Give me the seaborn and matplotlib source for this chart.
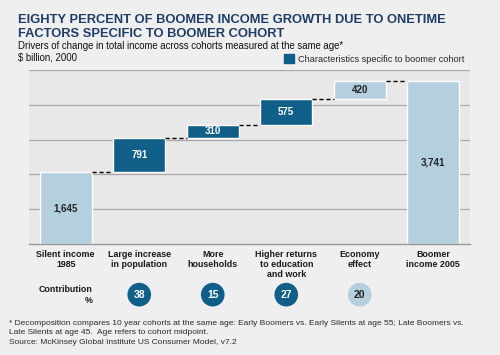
import matplotlib
matplotlib.use("Agg")
import matplotlib.pyplot as plt
from matplotlib.patches import Patch
import numpy as np
import pandas as pd
import seaborn as sns

# data
labels = ["Silent income\n1985", "Large increase\nin population", "More\nhouseholds",
          "Higher returns\nto education\nand work", "Economy\neffect", "Boomer\nincome 2005"]
values = [1645, 791, 310, 575, 420, 3741]
kinds = ["total", "boomer", "boomer", "boomer", "other", "total"]
contrib_labels = labels[1:5]
contrib = [38, 15, 27, 20]
contrib_kinds = ["boomer", "boomer", "boomer", "other"]

DARK = "#0f5f88"
LIGHT = "#b4cfde"
palette = {"boomer": DARK, "other": LIGHT, "total": LIGHT}

# floating bars start where the previous step ended; totals start at zero
bottoms = []
run = 0
for v, k in zip(values, kinds):
    if k == "total":
        bottoms.append(0)
        run = v
    else:
        bottoms.append(run)
        run += v

df = pd.DataFrame({"label": labels, "value": values, "bottom": bottoms, "kind": kinds})

sns.set_theme(style="white")
plt.rcParams["font.family"] = ["Liberation Sans", "DejaVu Sans"]

fig = plt.figure(figsize=(5, 3.55), dpi=100, facecolor="#efefef")
ax = fig.add_axes([0.058, 0.3127, 0.882, 0.4903], facecolor="#e8e8e8")

for kind, sub in df.groupby("kind"):
    sns.barplot(data=sub, x="label", y="value", order=labels, color=palette[kind],
                bottom=sub["bottom"].values, width=0.71, saturation=1, ax=ax)

# connectors
tops = df["bottom"] + df["value"]
for i in range(len(labels) - 1):
    ax.hlines(tops[i], i + 0.355, i + 1 - 0.355, colors="black", linestyles=(0, (3, 2)), lw=1)

# value labels
for i, row in df.iterrows():
    ax.text(i, row["bottom"] + row["value"] / 2, f"{row['value']:,}", ha="center", va="center",
            fontsize=7, fontweight="bold", color="white" if row["kind"] == "boomer" else "#222222")

ax.set_xlim(-0.5, len(labels) - 0.5)
ax.set_ylim(0, 4000)
ax.set_yticks(np.arange(800, 4001, 800))
ax.set_yticklabels([])
ax.yaxis.grid(True, color="#a8a8a8", lw=0.9)
ax.set_axisbelow(True)
ax.tick_params(axis="both", length=0, pad=4)
ax.set_xticks(range(len(labels)))
ax.set_xticklabels(labels, fontsize=6.4, fontweight="bold", color="#1a1a1a", linespacing=1.2)
ax.set_xlabel("")
ax.set_ylabel("")
for s in ["top", "left", "right"]:
    ax.spines[s].set_visible(False)
ax.spines["bottom"].set_color("#999999")
ax.spines["bottom"].set_linewidth(1)

ax.legend(handles=[Patch(color=DARK, label="Characteristics specific to boomer cohort")],
          loc="lower right", bbox_to_anchor=(1.0, 1.0), frameon=False,
          handlelength=1.1, handleheight=1.1, handletextpad=0.35, borderaxespad=0.25,
          prop={"size": 6.6})

# contribution row
cax = fig.add_axes([0.058, 0.12, 0.882, 0.1], facecolor="none")
cdf = pd.DataFrame({"label": contrib_labels, "pct": contrib, "kind": contrib_kinds})
cdf["pos"] = [labels.index(l) for l in contrib_labels]
cdf["y"] = 0
sns.scatterplot(data=cdf, x="pos", y="y", hue="kind", palette=palette, s=290,
                legend=False, linewidth=0, ax=cax)
for _, row in cdf.iterrows():
    cax.text(row["pos"], 0, str(row["pct"]), ha="center", va="center", fontsize=7.5,
             fontweight="bold", color="white" if row["kind"] == "boomer" else "#222222")
cax.text(0.37, 0, "Contribution\n%", ha="right", va="center", fontsize=6.4,
         fontweight="bold", color="#1a1a1a", linespacing=1.25)
cax.set_xlim(-0.5, len(labels) - 0.5)
cax.set_ylim(-1, 1)
cax.axis("off")

# titles
title = fig.text(0.036, 1 - 37 / 355, "EIGHTY PERCENT OF BOOMER INCOME GROWTH DUE TO ONETIME\nFACTORS SPECIFIC TO BOOMER COHORT",
                 fontsize=10, fontweight="bold", color="#1d3d66", linespacing=1.2, va="baseline")
sub1 = fig.text(0.036, 1 - 49 / 355, "Drivers of change in total income across cohorts measured at the same age*",
                fontsize=7, color="#111111", va="baseline")
fig.text(0.036, 1 - 60 / 355, "$ billion, 2000", fontsize=sub1.get_fontsize(), color="#111111", va="baseline")
foot = fig.text(0.018, 1 - 344 / 355,
                "* Decomposition compares 10 year cohorts at the same age: Early Boomers vs. Early Silents at age 55; Late Boomers vs.\n"
                "Late Silents at age 45.  Age refers to cohort midpoint.\n"
                "Source: McKinsey Global Institute US Consumer Model, v7.2",
                fontsize=6.2, color="#2a2a2a", linespacing=1.5, va="baseline")

# shrink the headline texts to the widths they take in the reference
fig.canvas.draw()
r = fig.canvas.get_renderer()
for t, w in [(title, 426), (sub1, 327), (foot, 457)]:
    cur = t.get_window_extent(r).width
    t.set_fontsize(t.get_fontsize() * w / cur)
fig.texts[2].set_fontsize(sub1.get_fontsize())

fig.savefig("out.png", dpi=100, facecolor=fig.get_facecolor())
